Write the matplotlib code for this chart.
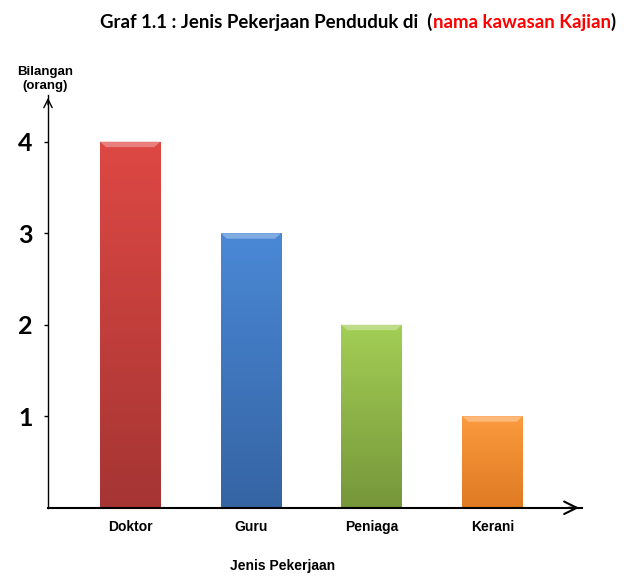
import numpy as np
import matplotlib.pyplot as plt
import matplotlib.colors as mcolors

'''
Data
'''
jobs = ["Doktor", "Guru", "Peniaga", "Kerani"]
counts = [4, 3, 2, 1]
y_ticks = [1, 2, 3, 4]

# top / bottom colour of each bar gradient
top_colors = ["#de4844", "#4a88d6", "#a3cf55", "#fb9a3e"]
bottom_colors = ["#a53533", "#3564a3", "#76963a", "#df7a22"]

'''
Figure
'''
fig = plt.figure(figsize=(6.4, 5.83), dpi=100)
ax = fig.add_axes([0.075, 0.129, 0.834, 0.708])

x = np.arange(len(jobs))
bars = ax.bar(x, counts, width=0.5, color="none", edgecolor="none", zorder=2)

# gradient fill, clipped to each bar
for b, c1, c2 in zip(bars, top_colors, bottom_colors):
    cmap = mcolors.LinearSegmentedColormap.from_list("g", [c2, c1])
    grad = np.linspace(0, 1, 256).reshape(-1, 1)
    x0, y0 = b.get_x(), b.get_y()
    w, h = b.get_width(), b.get_height()
    im = ax.imshow(grad, cmap=cmap, origin="lower", aspect="auto",
                   extent=[x0, x0 + w, y0, y0 + h], zorder=2)
    im.set_clip_path(b)
    # lighter bevel at the top
    light = 0.7 * np.array(mcolors.to_rgb(c1)) + 0.3
    ax.fill([x0, x0 + w, x0 + w - 0.05, x0 + 0.05], [y0 + h, y0 + h, y0 + h - 0.06, y0 + h - 0.06],
            color=light, lw=0, zorder=3)

ax.set_xlim(-0.68, 3.74)
ax.set_ylim(0, 4.51)

for s in ["top", "right"]:
    ax.spines[s].set_visible(False)
ax.spines["left"].set_linewidth(1.0)
ax.spines["bottom"].set_linewidth(1.5)

# open arrow heads
ax.annotate("", xy=(1.0, 0), xytext=(0.97, 0), xycoords="axes fraction",
            arrowprops=dict(arrowstyle="->,head_length=0.9,head_width=0.45", lw=1.5, color="black"))
ax.annotate("", xy=(0, 1.0), xytext=(0, 0.97), xycoords="axes fraction",
            arrowprops=dict(arrowstyle="->,head_length=0.6,head_width=0.3", lw=1.0, color="black"))

ax.set_yticks(y_ticks)
ax.set_yticklabels([str(t) for t in y_ticks], fontsize=18, fontweight="bold", family="Lato")
ax.tick_params(axis="y", length=3, width=1, pad=8)

ax.set_xticks(x)
ax.set_xticklabels(jobs, fontsize=10, fontweight="bold", family="Liberation Sans")
ax.tick_params(axis="x", length=0, pad=9)

fig.text(0.442, 0.029, "Jenis Pekerjaan", fontsize=10, fontweight="bold",
         family="Liberation Sans", ha="center", va="center")
fig.text(0.071, 0.865, "Bilangan\n(orang)", fontsize=9.5, fontweight="bold",
         family="Liberation Sans", ha="center", va="center", linespacing=1.2)

# title with red part
fs = 13.4
t1 = fig.text(0.157, 0.962, "Graf 1.1 : Jenis Pekerjaan Penduduk di  (", fontsize=fs,
              fontweight="bold", family="Lato", ha="left", va="center")
fig.canvas.draw()
bb = t1.get_window_extent()
t2 = fig.text(bb.x1 / fig.bbox.width, 0.962, "nama kawasan Kajian", fontsize=fs, fontweight="bold",
              family="Lato", color="#ff0000", ha="left", va="center")
fig.canvas.draw()
bb2 = t2.get_window_extent()
fig.text(bb2.x1 / fig.bbox.width, 0.962, ")", fontsize=fs, fontweight="bold",
         family="Lato", ha="left", va="center")

fig.savefig("out.png", dpi=100)
